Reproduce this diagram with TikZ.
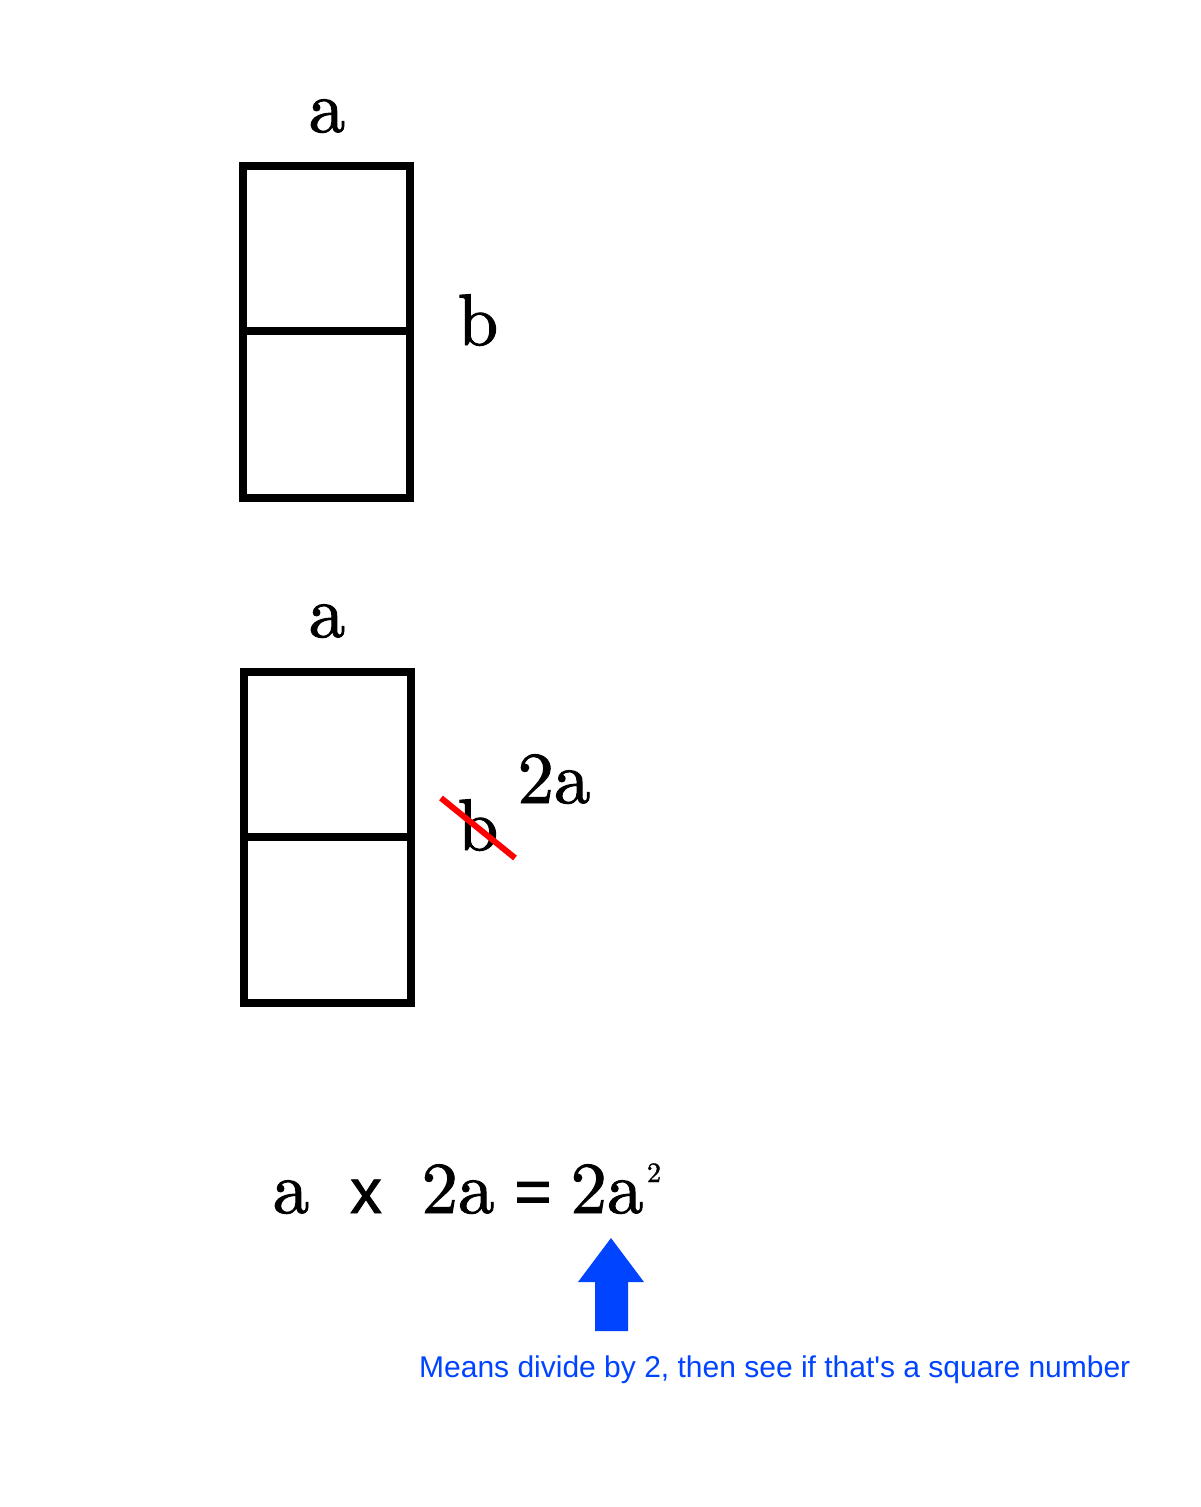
\documentclass[tikz,border=0pt]{standalone}
\usepackage{fontspec}
\newfontfamily\sansfnt{Liberation Sans}
\newfontfamily\heavysans{Liberation Sans}[FakeBold=1.5]
\newfontfamily\heavyserif{lmroman10-regular.otf}[FakeBold=1.3]
\definecolor{arrowblue}{HTML}{0044FF}
\definecolor{strikered}{HTML}{FF0000}
\begin{document}
\begin{tikzpicture}[x=1pt,y=-1pt,
  box/.style={line width=8.5pt},
  lab/.style={font=\heavyserif\fontsize{73}{80}\selectfont, inner sep=0pt, anchor=base},
  sanslab/.style={font=\heavysans\fontsize{63}{66}\selectfont, inner sep=0pt, anchor=base},
  note/.style={font=\sansfnt\fontsize{30}{33}\selectfont, text=arrowblue, inner sep=0pt, anchor=base west}]
\useasboundingbox (0,0) rectangle (1200,1507);
\fill[white] (0,0) rectangle (1200,1507);
% first figure
\draw[box] (243,166) rectangle (410,498);
\draw[box] (243,331) -- (410,331);
\node[lab] (a1) at (327,132) {a};
\node[lab] (b1) at (478,345) {b};
% second figure
\draw[box] (244,672) rectangle (411,1003);
\draw[box] (244,837) -- (411,837);
\node[lab] (a2) at (327,637) {a};
\node[lab] (b2) at (478,850) {b};
\coordinate (s1) at (441,798);
\coordinate (s2) at (515,858);
\draw[strikered, line width=6pt] (s1) -- (s2);
\node[lab] (twoa) at (554,803) {2a};
% formula
\node[lab] (fa) at (291,1213) {a};
\node[sanslab] (fx) at (366,1213) {x};
\node[lab] (f2a) at (458,1213) {2a};
\node[sanslab] (feq) at (533,1213) {=};
\node[lab] (f2a2) at (607,1213) {2a};
\node[font=\heavyserif\fontsize{28}{30}\selectfont, inner sep=0pt, anchor=base] (fsq) at (654,1182) {2};
% arrow
\fill[arrowblue] (595,1331) -- (628,1331) -- (628,1282) -- (644,1282) -- (611,1238) -- (578,1282) -- (595,1282) -- cycle;
\node[note] (txt) at (419,1377) {Means divide by 2, then see if that's a square number};
\end{tikzpicture}
\end{document}
